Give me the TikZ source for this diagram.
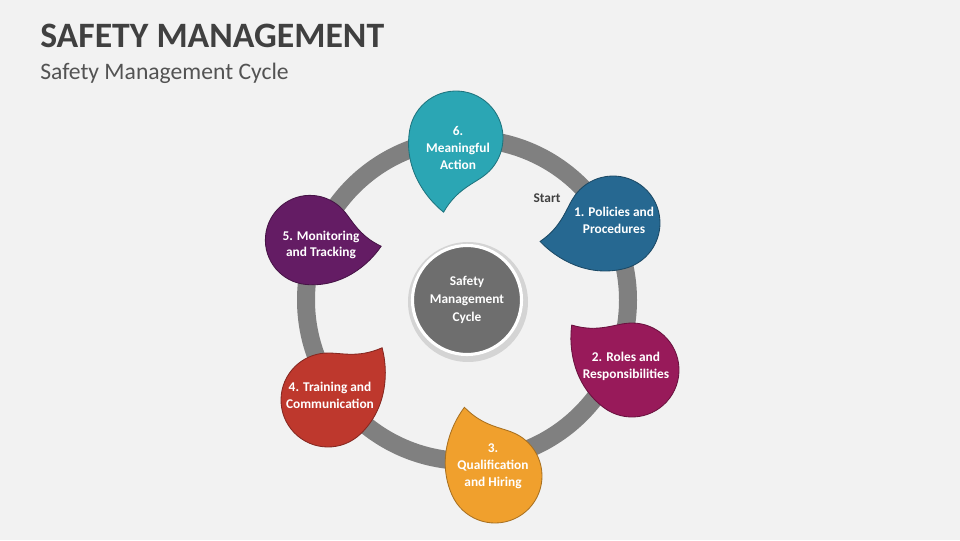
\documentclass[tikz,border=0pt]{standalone}
\usepackage{fontspec}
\setmainfont{Carlito}
\usepackage{xcolor}
\definecolor{bgc}{RGB}{242,242,242}
\definecolor{titlec}{RGB}{64,64,64}
\definecolor{ringc}{RGB}{128,128,128}
\definecolor{hubc}{RGB}{110,110,110}
\definecolor{tealc}{RGB}{43,166,180}
\definecolor{bluec}{RGB}{38,104,145}
\definecolor{magc}{RGB}{152,26,90}
\definecolor{orangec}{RGB}{240,160,45}
\definecolor{redc}{RGB}{190,56,45}
\definecolor{purplec}{RGB}{100,28,100}

\tikzset{
  pics/teardrop/.style={code={
    \filldraw[fill=#1,draw=#1!70!black,line width=0.6pt,scale=47]
      (0,-1.6) .. controls (-0.45,-1.35) and (-1,-0.8) .. (-1,0)
      arc[start angle=180,end angle=-40,radius=1]
      .. controls (0.57,-0.88) and (0.2,-1.05) .. (0,-1.6) -- cycle;
  }},
  droptext/.style={text=white,align=center,font=\fontsize{9.5}{12}\selectfont\bfseries},
  hubnode/.style={circle,fill=hubc,draw=white,line width=2.2pt,minimum size=2.725cm,
    text=white,align=center,font=\fontsize{9.5}{12.8}\selectfont\bfseries}
}

\begin{document}
\begin{tikzpicture}[x=0.025cm,y=0.025cm]
\fill[bgc] (0,0) rectangle (960,-540);
\node[anchor=base west,inner sep=0,text=titlec,font=\fontsize{25.4}{30}\selectfont\bfseries] (title) at (40,-47) {SAFETY MANAGEMENT};
\node[anchor=base west,inner sep=0,text=titlec!90,font=\fontsize{16.8}{20}\selectfont] (subtitle) at (40,-79) {Safety Management Cycle};

\draw[ringc,line width=12.8pt] (467,-300) circle[radius=161];
\fill[black,opacity=0.12] (468,-302) circle[radius=60];
\node[hubnode] (hub) at (467,-300) {Safety\\Management\\Cycle};

\pic[rotate=-9.5] at (456,-138) {teardrop=tealc};
\pic[rotate=-75.8,xscale=-1] at (613,-223) {teardrop=bluec};
\pic[rotate=-126.7,xscale=-1] at (632,-370) {teardrop=magc};
\pic[rotate=-156,xscale=-1] at (495,-476) {teardrop=orangec};
\pic[rotate=134] at (328,-400) {teardrop=redc};
\pic[rotate=85,scale=0.95] at (310,-240) {teardrop=purplec};

\node[droptext] (step6) at (458,-148) {6.\\Meaningful\\Action};
\node[droptext] (step1) at (614,-220) {1. Policies and\\Procedures};
\node[droptext] (step2) at (626,-366) {2. Roles and\\Responsibilities};
\node[droptext] (step3) at (493,-466) {3.\\Qualification\\and Hiring};
\node[droptext] (step4) at (330,-395) {4. Training and\\Communication};
\node[droptext] (step5) at (321,-245) {5. Monitoring\\and Tracking};
\node[text=titlec,font=\fontsize{9.5}{12}\selectfont\bfseries] (start) at (547,-198) {Start};
\end{tikzpicture}
\end{document}
